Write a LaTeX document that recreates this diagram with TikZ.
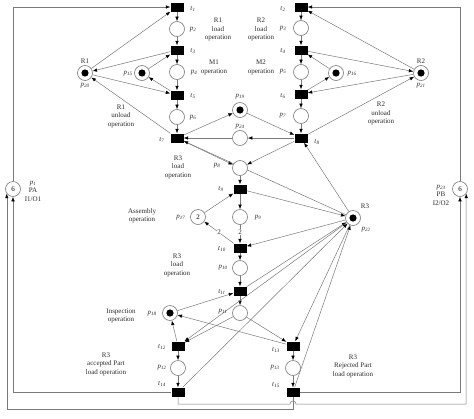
\documentclass[tikz,border=0pt]{standalone}
\usepackage{fontspec}
\setmainfont{Liberation Serif}
\usetikzlibrary{arrows.meta}
\pgfdeclarelayer{background}
\pgfsetlayers{background,main}
\definecolor{linegray}{HTML}{7A7A7A}
\definecolor{textgray}{HTML}{2A2A2A}
\newcommand\plab[1]{\textit{p}\textsubscript{\textit{#1}}}
\newcommand\tlab[1]{\textit{t}\textsubscript{\textit{#1}}}
\begin{document}
\begin{tikzpicture}[x=1pt,y=-1pt,
 place/.style={circle,draw=linegray,fill=white,minimum size=15pt,inner sep=0pt,line width=0.6pt},
 tokplace/.style={place,path picture={\fill[black] (path picture bounding box.center) circle (3.6pt);}},
 trans/.style={rectangle,fill=black,minimum width=13pt,minimum height=9pt,inner sep=0pt},
 arc/.style={draw=linegray,line width=0.5pt,-{Latex[length=4.5pt,width=3.5pt,color=black]}},
 lab/.style={font=\fontsize{7}{8}\selectfont,text=textgray,inner sep=0pt},
 txt/.style={font=\fontsize{7}{8.5}\selectfont,text=textgray,align=center,inner sep=0pt},
 wlab/.style={lab,fill=white,inner sep=0.6pt},
]
\useasboundingbox (0,0) rectangle (474,418);
% left column
\node[trans] (t1) at (177,7) {};
\node[place] (p2) at (177,29) {};
\node[trans] (t3) at (177,50) {};
\node[place] (p4) at (177,72) {};
\node[trans] (t5) at (177,95) {};
\node[place] (p6) at (177,117) {};
\node[trans] (t7) at (177,138) {};
% right column
\node[trans] (t2) at (301,7) {};
\node[place] (p3) at (301,28) {};
\node[trans] (t4) at (301,50) {};
\node[place] (p5) at (301,72) {};
\node[trans] (t6) at (301,94) {};
\node[place] (p7) at (301,116) {};
\node[trans] (t8) at (301,138) {};
% resources
\node[tokplace] (p20) at (85,73) {};
\node[tokplace] (p15) at (142,73) {};
\node[tokplace] (p16) at (336,73) {};
\node[tokplace] (p21) at (421,73) {};
% middle
\node[tokplace] (p19) at (240,110) {};
\node[place] (p24) at (240,138) {};
\node[place] (p8) at (240,168) {};
\node[trans] (t9) at (240,189) {};
\node[place] (p9) at (240,217) {};
\node[place,font=\fontsize{7}{8}\selectfont] (p17) at (198,217) {2};
\node[trans] (t10) at (240,248) {};
\node[place] (p10) at (240,268) {};
\node[trans] (t11) at (240,291) {};
\node[place] (p11) at (240,313) {};
\node[tokplace] (p22) at (353,218) {};
\node[tokplace] (p18) at (170,313) {};
\node[trans] (t12) at (178,346) {};
\node[place] (p12) at (178,368) {};
\node[trans] (t14) at (178,392) {};
\node[trans] (t13) at (293,346) {};
\node[place] (p13) at (293,368) {};
\node[trans] (t15) at (293,392) {};
\node[place,font=\fontsize{7}{8}\selectfont] (p1) at (13,189) {6};
\node[place,font=\fontsize{7}{8}\selectfont] (p23) at (460,189) {6};
\begin{pgfonlayer}{background}
% sequence arcs
\draw[arc] (t1) -- (p2);
\draw[arc] (p2) -- (t3);
\draw[arc] (t3) -- (p4);
\draw[arc] (p4) -- (t5);
\draw[arc] (t5) -- (p6);
\draw[arc] (p6) -- (t7);
\draw[arc] (t2) -- (p3);
\draw[arc] (p3) -- (t4);
\draw[arc] (t4) -- (p5);
\draw[arc] (p5) -- (t6);
\draw[arc] (t6) -- (p7);
\draw[arc] (p7) -- (t8);
% R1 / M1
\draw[arc] (p20) -- (t1);
\draw[arc] (t3) -- (p20);
\draw[arc] (p20) -- (t5);
\draw[arc] (t7) -- (p20);
\draw[arc] (p15) -- (t3);
\draw[arc] (t5) -- (p15);
% R2 / M2
\draw[arc] (p21) -- (t2);
\draw[arc] (t4) -- (p21);
\draw[arc] (p21) -- (t6);
\draw[arc] (t8) -- (p21);
\draw[arc] (p16) -- (t4);
\draw[arc] (t6) -- (p16);
% p19 / p24
\draw[arc] (t7) -- (p19);
\draw[arc] (p19) -- (t8);
\draw[arc] (t8) -- (p24);
\draw[arc] (p24) -- (t7);
% assembly
\draw[arc] (t7) -- (p8);
\draw[arc] (t8) -- (p8);
\draw[arc] (p22) -- (t7);
\draw[arc] (p22) -- (t8);
\draw[arc] (p8) -- (t9);
\draw[arc] (t9) -- (p22);
\draw[arc] (p17) -- (t9);
\draw[arc] (t9) -- (p9);
\draw[arc] (p9) -- (t10);
\draw[arc] (t10) -- (p17);
\draw[arc] (p22) -- (t10);
\draw[arc] (t10) -- (p10);
\draw[arc] (p10) -- (t11);
\draw[arc] (t11) -- (p22);
\draw[arc] (t11) -- (p11);
% inspection
\draw[arc] (p18) -- (t11);
\draw[arc] (p11) -- (t12);
\draw[arc] (p11) -- (t13);
\draw[arc] (t12) -- (p18);
\draw[arc] (t13) -- (p18);
\draw[arc] (p22) -- (t12);
\draw[arc] (p22) -- (t13);
\draw[arc] (t12) -- (p12);
\draw[arc] (p12) -- (t14);
\draw[arc] (t13) -- (p13);
\draw[arc] (p13) -- (t15);
\draw[arc] (t14) -- (p22);
\draw[arc] (t15) -- (p22);
% loops to PA / PB
\draw[arc] (p1) |- (t1);
\draw[arc] (p23) |- (t2);
\draw[arc] (t14) -| (p1);
\draw[arc] (t15) -| (p23);
\draw[arc] (t15.south) -- ++(0,13) -| (p1.217);
\draw[arc] (t14.south) |- (290,404) arc[start angle=180,end angle=0,radius=3pt] -| (p23.323);
\end{pgfonlayer}
% weight labels
\node[wlab] (w1) at (240,232) {2};
\node[wlab] (w2) at (219,232) {2};
% node labels
\node[lab] (lt1) at (193,9) {\tlab{1}};
\node[lab] (lp2) at (193,30) {\plab{2}};
\node[lab] (lt3) at (193,51) {\tlab{3}};
\node[lab] (lp4) at (194,73) {\plab{4}};
\node[lab] (lt5) at (193,96) {\tlab{5}};
\node[lab] (lp6) at (193,118) {\plab{6}};
\node[lab] (lt7) at (162,140) {\tlab{7}};
\node[lab] (lt2) at (283,9) {\tlab{2}};
\node[lab] (lp3) at (283,29) {\plab{3}};
\node[lab] (lt4) at (283,51) {\tlab{4}};
\node[lab] (lp5) at (283,72) {\plab{5}};
\node[lab] (lt6) at (283,96) {\tlab{6}};
\node[lab] (lp7) at (283,116) {\plab{7}};
\node[lab] (lt8) at (317,142) {\tlab{8}};
\node[lab] (lR1) at (85,61) {R1};
\node[lab] (lp20) at (85,86) {\plab{20}};
\node[lab] (lp15) at (128,74) {\plab{15}};
\node[lab] (lR2) at (421,61) {R2};
\node[lab] (lp21) at (421,86) {\plab{21}};
\node[lab] (lp16) at (352,74) {\plab{16}};
\node[lab] (lp19) at (240,97) {\plab{19}};
\node[lab] (lp24) at (240,127) {\plab{24}};
\node[lab] (lp8) at (217,166) {\plab{8}};
\node[lab] (lt9) at (221,189) {\tlab{9}};
\node[lab] (lp17) at (181,218) {\plab{17}};
\node[lab] (lp9) at (258,218) {\plab{9}};
\node[lab] (lt10) at (222,249) {\tlab{10}};
\node[lab] (lp10) at (223,268) {\plab{10}};
\node[lab] (lt11) at (222,292) {\tlab{11}};
\node[lab] (lp11) at (223,312) {\plab{11}};
\node[lab] (lp18) at (152,314) {\plab{18}};
\node[lab] (lt12) at (162,347) {\tlab{12}};
\node[lab] (lp12) at (162,368) {\plab{12}};
\node[lab] (lt14) at (162,384) {\tlab{14}};
\node[lab] (lt13) at (276,350) {\tlab{13}};
\node[lab] (lp13) at (275,368) {\plab{13}};
\node[lab] (lt15) at (276,385) {\tlab{15}};
\node[lab] (lR3) at (365,206) {R3};
\node[lab] (lp22) at (366,230) {\plab{22}};
% descriptive texts
\node[txt] (d1) at (218,29.5) {R1\\load\\operation};
\node[txt] (d2) at (214,67.5) {M1\\operation};
\node[txt] (d3) at (121,116) {R1\\unload\\operation};
\node[txt] (d4) at (261,29.5) {R2\\load\\operation};
\node[txt] (d5) at (261,67.5) {M2\\operation};
\node[txt] (d6) at (381,113.5) {R2\\unload\\operation};
\node[txt] (d7) at (178,167) {R3\\load\\operation};
\node[txt] (d8) at (142,216) {Assembly\\operation};
\node[txt] (d9) at (177,265) {R3\\load\\operation};
\node[txt] (d10) at (121,316) {Inspection\\operation};
\node[txt] (d11) at (106,364) {R3\\accepted Part\\load operation};
\node[txt] (d12) at (353,366) {R3\\Rejected Part\\load operation};
\node[txt] (d13) at (33,191) {\plab{1}\\PA\\I1/O1};
\node[txt] (d14) at (441,195) {\plab{23}\\PB\\I2/O2};
\end{tikzpicture}
\end{document}
